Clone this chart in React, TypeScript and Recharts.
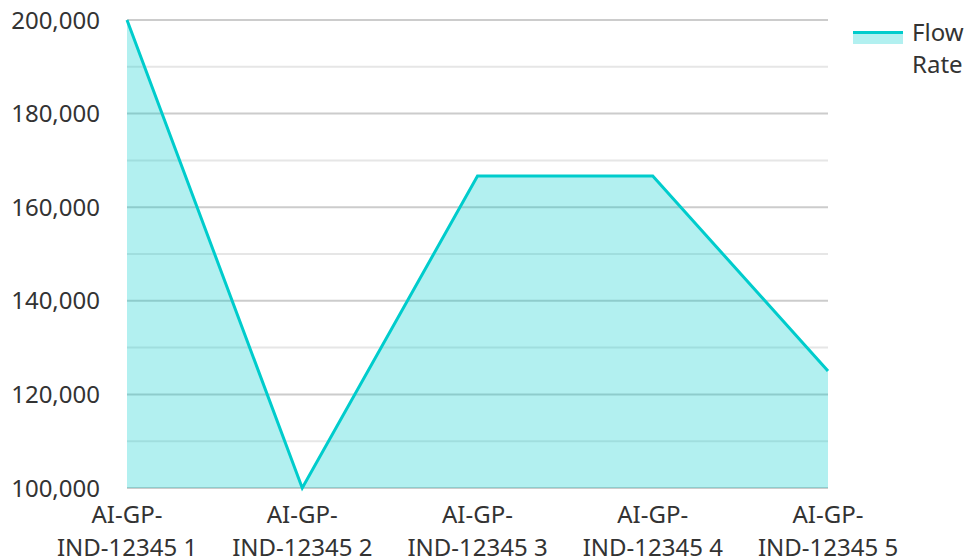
import React from 'react';
import { AreaChart, Area, XAxis, YAxis, CartesianGrid, Legend } from 'recharts';

const categories = ['AI-GP-IND-12345 1', 'AI-GP-IND-12345 2', 'AI-GP-IND-12345 3', 'AI-GP-IND-12345 4', 'AI-GP-IND-12345 5'];
const flowRate = [200000, 100000, 166667, 166667, 125000];
const majorTicks = [100000, 120000, 140000, 160000, 180000, 200000];
const minorTicks = [110000, 130000, 150000, 170000, 190000];

const data = categories.map((name, i) => ({ name, flow: flowRate[i] }));

const FONT = '"Noto Sans", "Open Sans", sans-serif';
const TEAL = '#00cccc';

// x labels break after "AI-GP-"
const XTick = (props: any) => {
  const { x, y, payload } = props;
  const label: string = payload.value;
  const cut = label.indexOf('-', label.indexOf('-') + 1) + 1;
  return (
    <text x={x} y={y} textAnchor="middle" fill="#333" fontSize={24} fontFamily={FONT}>
      <tspan x={x} dy={27}>{label.slice(0, cut)}</tspan>
      <tspan x={x} dy={33}>{label.slice(cut)}</tspan>
    </text>
  );
};

const LegendBox = () => (
  <div style={{ position: 'relative', width: 114, height: 70, fontFamily: FONT, fontSize: 24, color: '#333' }}>
    <div style={{ position: 'absolute', left: 0, top: 11, width: 50, height: 3, background: TEAL }} />
    <div style={{ position: 'absolute', left: 0, top: 14, width: 50, height: 10, background: '#b2f0f0' }} />
    <div style={{ position: 'absolute', left: 59, top: -4, lineHeight: '32px' }}>
      Flow<br />Rate
    </div>
  </div>
);

export default function App() {
  return (
    <div style={{ position: 'absolute', left: 0, top: 0 }}>
      <AreaChart width={967} height={560} data={data} margin={{ top: 20, right: 25, bottom: 0, left: 0 }}>
        <CartesianGrid vertical={false} horizontalValues={minorTicks} stroke="#e6e6e6" strokeWidth={2} />
        <CartesianGrid vertical={false} horizontalValues={majorTicks} stroke="#cccccc" strokeWidth={2} />
        <XAxis dataKey="name" height={72} axisLine={false} tickLine={false} interval={0} tick={<XTick />} />
        <YAxis
          width={127}
          domain={[100000, 200000]}
          ticks={majorTicks}
          axisLine={false}
          tickLine={false}
          tickFormatter={(v: number) => v.toLocaleString('en-US')}
          tick={{ fill: '#333', fontSize: 24, fontFamily: FONT }}
          tickMargin={21}
        />
        <Legend
          layout="vertical"
          align="right"
          verticalAlign="top"
          width={114}
          content={() => <LegendBox />}
          wrapperStyle={{ position: 'absolute', left: 853, top: 20, width: 114 }}
        />
        <Area
          type="linear"
          dataKey="flow"
          name="Flow Rate"
          stroke={TEAL}
          strokeWidth={3}
          fill={TEAL}
          fillOpacity={0.3}
          baseValue={100000}
          isAnimationActive={false}
          dot={false}
          activeDot={false}
        />
      </AreaChart>
    </div>
  );
}
